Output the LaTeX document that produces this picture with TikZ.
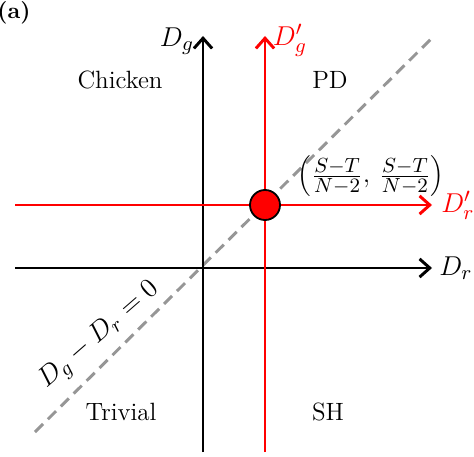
\documentclass[tikz,border=0pt]{standalone}
\usetikzlibrary{arrows.meta}
\begin{document}
\begin{tikzpicture}[x=0.44pt,y=-0.44pt,
  axis/.style={line width=1.3pt,-{Straight Barb[length=4.5pt,width=8pt,line width=1.3pt]}},
  lbl/.style={inner sep=1pt},
  region/.style={inner sep=1pt,font=\fontsize{11}{13}\selectfont},
  axlbl/.style={inner sep=1pt,font=\fontsize{12.5}{15}\selectfont}]
\useasboundingbox (0,0) rectangle (474,456);
\definecolor{dgray}{RGB}{150,150,150}
\coordinate (d1) at (35,432);
\coordinate (d2) at (432,38);
\coordinate (ob) at (203,452);
\coordinate (ot) at (203,36);
\coordinate (ol) at (15,268);
\coordinate (or) at (432,268);
\coordinate (rb) at (265,452);
\coordinate (rt) at (265,36);
\coordinate (rl) at (15,205);
\coordinate (rr) at (432,205);
\draw[dgray,line width=1.3pt,dash pattern=on 5pt off 3pt] (d1) -- (d2);
\draw[axis] (ob) -- (ot);
\draw[axis] (ol) -- (or);
\draw[axis,red] (rb) -- (rt);
\draw[axis,red] (rl) -- (rr);
\node[circle,fill=red,draw=black,line width=0.8pt,minimum size=30*0.44pt,inner sep=0pt] (pt) at (265,205) {};
\node[axlbl] (dg) at (177,41) {$D_g$};
\node[axlbl,red] (dgp) at (290,40) {$D'_g$};
\node[axlbl] (dr) at (456,268) {$D_r$};
\node[axlbl,red] (drp) at (458,205) {$D'_r$};
\node[region] (chk) at (120,80) {Chicken};
\node[region] (pd) at (330,80) {PD};
\node[region] (tri) at (121,412) {Trivial};
\node[region] (sh) at (328,412) {SH};
\node[lbl] (a) at (14,13) {\textbf{(a)}};
\node[lbl,font=\fontsize{12.5}{15}\selectfont] (coord) at (371,176) {$\Big(\frac{S-T}{N-2},\,\frac{S-T}{N-2}\Big)$};
\node[inner sep=0pt,anchor=base west,rotate=41,font=\fontsize{13}{15}\selectfont] (eq) at (46,389) {$D_g-D_r=0$};
\end{tikzpicture}
\end{document}
